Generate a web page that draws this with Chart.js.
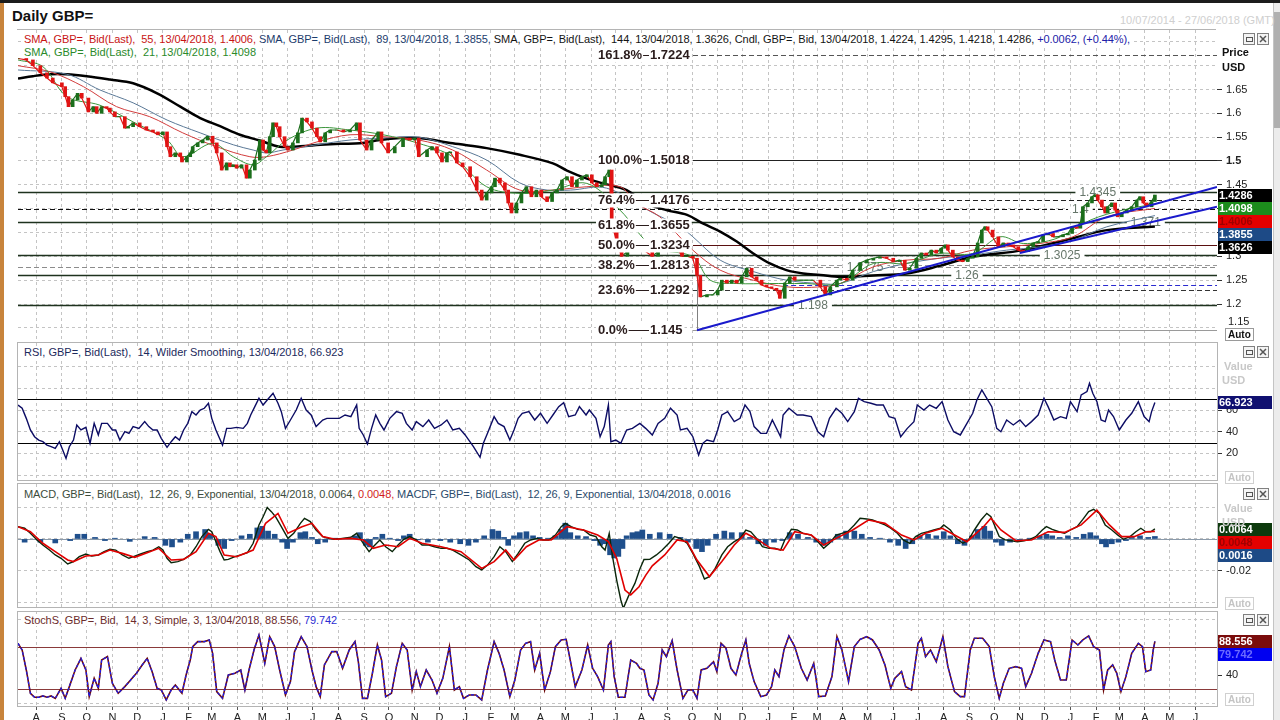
<!DOCTYPE html>
<html>
<head>
<meta charset="utf-8">
<title>Daily GBP=</title>
<script src="https://cdn.jsdelivr.net/npm/chart.js@4.4.1/dist/chart.umd.min.js"></script>
<style>
  html, body { margin: 0; padding: 0; }
  body { width: 1280px; height: 720px; overflow: hidden; position: relative; background: #fff;
         font-family: "Liberation Sans", Arial, sans-serif; }
  canvas { position: absolute; left: 18px; }
  .t { position: absolute; white-space: pre; font-size: 11px; line-height: 12px; }
  .hdr { background: #fff; padding-right: 2px; }
  .frame { position: absolute; border: 1px solid #b4b4b4; pointer-events: none; }
  .ico { position: absolute; width: 10px; height: 10px; border: 1px solid #808080; background: #f4f4f4; }
  .auto { position: absolute; font-size: 10px; font-weight: bold; line-height: 11px; padding: 0 2px; border: 1px solid #9a9a9a; }
  .side { position: absolute; font-size: 11px; font-weight: bold; }
</style>
</head>
<body>
<div style="position:absolute;left:0;top:0;width:1280px;height:3px;background:#1c1c1c"></div>
<div style="position:absolute;left:0;top:3px;width:4px;height:717px;background:#c8843c"></div>
<div style="position:absolute;left:1273px;top:3px;width:7px;height:717px;background:#ececec;border-left:1px solid #c4c4c4"></div>
<div style="position:absolute;left:1274px;top:12px;width:6px;height:116px;background:#b0b0b0"></div>

<div class="t" style="left:12px;top:8px;font-size:15px;line-height:16px;font-weight:bold;color:#111">Daily GBP=</div>
<div class="t" style="left:1120px;top:14px;color:#cfcfcf">10/07/2014 - 27/06/2018 (GMT)</div>

<canvas id="cPrice" width="1254" height="310" style="top:30px"></canvas>
<canvas id="cRsi" width="1254" height="137" style="top:343px"></canvas>
<canvas id="cMacd" width="1254" height="123" style="top:484px"></canvas>
<canvas id="cStoch" width="1254" height="120" style="top:612px"></canvas>

<div class="frame" style="left:17px;top:29px;width:1199px;height:310px;border-left:none;border-right:none;border-bottom:none"></div>
<div class="frame" style="left:17px;top:342px;width:1199px;height:137px"></div>
<div class="frame" style="left:17px;top:483px;width:1199px;height:123px"></div>
<div class="frame" style="left:17px;top:611px;width:1199px;height:94px"></div>

<div class="t hdr" style="left:24px;top:33px;letter-spacing:-0.07px"><span style="color:#c81414">SMA, GBP=, Bid(Last),  55, 13/04/2018, 1.4006, </span><span style="color:#1c3c6c">SMA, GBP=, Bid(Last),  89, 13/04/2018, 1.3855, </span><span style="color:#141414">SMA, GBP=, Bid(Last),  144, 13/04/2018, 1.3626, Cndl, GBP=, Bid, 13/04/2018, 1.4224, 1.4295, 1.4218, 1.4286, </span><span style="color:#2020a8">+0.0062, (+0.44%),</span></div>
<div class="t hdr" style="left:24px;top:46px;color:#2a8a2a">SMA, GBP=, Bid(Last),  21, 13/04/2018, 1.4098</div>
<div class="t hdr" style="left:24px;top:346px;color:#1c2a5c">RSI, GBP=, Bid(Last),  14, Wilder Smoothing, 13/04/2018, 66.923</div>
<div class="t hdr" style="left:24px;top:488px;letter-spacing:-0.1px"><span style="color:#3c4c3c">MACD, GBP=, Bid(Last),  12, 26, 9, Exponential, 13/04/2018, 0.0064, </span><span style="color:#d21c1c">0.0048, </span><span style="color:#2c4c6c">MACDF, GBP=, Bid(Last),  12, 26, 9, Exponential, 13/04/2018, 0.0016</span></div>
<div class="t hdr" style="left:24px;top:614px;letter-spacing:-0.1px"><span style="color:#6c2c2c">StochS, GBP=, Bid,  14, 3, Simple, 3, 13/04/2018, 88.556, </span><span style="color:#2c2cd2">79.742</span></div>

<div class="side" style="left:1222px;top:46px;color:#111">Price</div>
<div class="side" style="left:1222px;top:61px;color:#111">USD</div>
<div class="t" style="left:1228px;top:315px;color:#222">1.15</div>
<div class="side" style="left:1224px;top:360px;color:#c8c8c8">Value</div>
<div class="side" style="left:1222px;top:374px;color:#c8c8c8">USD</div>
<div class="side" style="left:1224px;top:502px;color:#c8c8c8">Value</div>
<div class="side" style="left:1222px;top:516px;color:#c8c8c8">USD</div>

<div class="auto" style="left:1225px;top:328px;color:#111;background:#fff">Auto</div>
<div class="auto" style="left:1225px;top:471px;color:#c4c4c4;border-color:#d0d0d0">Auto</div>
<div class="auto" style="left:1225px;top:597px;color:#c4c4c4;border-color:#d0d0d0">Auto</div>
<div class="auto" style="left:1225px;top:693px;color:#c4c4c4;border-color:#d0d0d0">Auto</div>

<div id="icons"></div>

<script>
// days are counted from 10/07/2014, the first bar of the chart
const START_MS = Date.UTC(2014, 6, 10);
const DAY_MS = 86400000;
const LAST_DAY = 1448; // 27/06/2018
const MONTH_LETTERS = ['J','F','M','A','M','J','J','A','S','O','N','D'];

// ---- price (closes read off the candles, roughly weekly) ----
const priceDays = [0,10,18,27,35,42,53,57,61,66,72,77,85,91,95,101,107,111,117,123,
  129,133,139,147,155,163,169,175,180,184,190,196,198,204,208,211,217,223,229,235,
  240,246,252,256,260,264,270,276,280,286,292,296,300,304,308,312,316,322,326,332,
  338,343,349,355,361,365,371,377,385,393,401,409,413,421,427,435,439,447,455,465,
  473,479,484,494,500,506,512,518,522,530,537,546,554,560,566,572,576,582,588,592,
  596,602,608,614,620,626,632,639,645,651,657,663,669,675,681,687,693,699,705,709,
  714,717,723,729,736,743,751,758,766,773,780,787,795,802,809,815,820,824,832,839,
  845,850,856,862,868,874,880,886,892,898,904,910,916,920,926,932,938,946,952,960,
  969,975,981,989,993,1001,1008,1017,1025,1033,1041,1049,1057,1065,1071,1077,1085,1091,1097,1103,
  1109,1115,1120,1123,1129,1135,1141,1147,1153,1159,1164,1168,1171,1177,1184,1190,1196,1202,1208,1214,
  1220,1226,1232,1238,1244,1250,1256,1262,1268,1273,1279,1283,1286,1292,1297,1301,1304,1309,1313,1316,
  1321,1325,1328,1333,1339,1345,1351,1355,1359,1363,1369,1373];
const priceCloses = [1.715,1.712,1.700,1.685,1.674,1.664,1.656,1.635,1.614,1.628,1.642,1.632,1.603,1.614,1.600,1.614,1.611,1.603,1.593,1.593,
  1.569,1.572,1.580,1.572,1.565,1.561,1.555,1.561,1.530,1.509,1.517,1.509,1.498,1.509,1.517,1.530,1.538,1.544,1.552,1.538,
  1.517,1.481,1.496,1.488,1.492,1.485,1.492,1.464,1.481,1.502,1.544,1.523,1.517,1.551,1.580,1.572,1.551,1.530,1.523,1.538,
  1.559,1.590,1.582,1.569,1.551,1.540,1.559,1.565,1.565,1.561,1.565,1.580,1.544,1.523,1.544,1.561,1.538,1.517,1.530,1.548,
  1.544,1.548,1.509,1.523,1.530,1.517,1.498,1.517,1.519,1.496,1.488,1.467,1.439,1.418,1.433,1.446,1.464,1.454,1.439,1.412,
  1.391,1.412,1.433,1.446,1.425,1.439,1.425,1.415,1.433,1.439,1.460,1.467,1.446,1.460,1.467,1.471,1.454,1.446,1.450,1.467,
  1.481,1.370,1.330,1.300,1.310,1.320,1.320,1.310,1.300,1.310,1.320,1.310,1.320,1.300,1.300,1.296,1.260,1.215,1.219,1.219,
  1.229,1.250,1.244,1.250,1.244,1.257,1.275,1.257,1.250,1.240,1.236,1.233,1.229,1.212,1.244,1.257,1.250,1.250,1.250,1.250,
  1.236,1.219,1.236,1.250,1.254,1.250,1.271,1.286,1.292,1.296,1.299,1.296,1.289,1.292,1.271,1.275,1.296,1.307,1.303,1.313,
  1.307,1.317,1.324,1.313,1.299,1.292,1.289,1.296,1.299,1.328,1.355,1.362,1.355,1.341,1.320,1.328,1.324,1.320,1.313,1.310,
  1.320,1.328,1.331,1.345,1.348,1.341,1.341,1.345,1.348,1.362,1.359,1.370,1.404,1.412,1.425,1.429,1.418,1.404,1.391,1.404,
  1.412,1.397,1.383,1.391,1.397,1.404,1.418,1.425,1.412,1.404,1.415,1.4286];

// ---- moving averages ----
const sma21Days = [0,30,59,99,139,180,199,235,260,284,300,325,361,401,441,484,525,566,606,646,687,727,767,815,836,868,908,948,993,1033,1073,1113,1153,1186,1214,1255,1295,1334,1373];
const sma21Vals = [1.712,1.698,1.635,1.617,1.582,1.544,1.509,1.537,1.509,1.492,1.509,1.544,1.569,1.565,1.555,1.537,1.509,1.446,1.432,1.439,1.453,1.397,1.320,1.299,1.250,1.243,1.243,1.243,1.243,1.285,1.285,1.306,1.306,1.341,1.327,1.338,1.376,1.397,1.4098];
const sma55Days = [0,39,79,119,159,199,240,280,300,332,361,401,441,484,525,566,606,646,687,727,747,775,815,848,888,928,969,993,1033,1073,1113,1153,1194,1234,1274,1315,1373];
const sma55Vals = [1.700,1.687,1.656,1.614,1.593,1.559,1.530,1.509,1.509,1.523,1.540,1.555,1.551,1.544,1.523,1.481,1.439,1.439,1.446,1.446,1.411,1.383,1.313,1.271,1.250,1.236,1.236,1.243,1.278,1.292,1.296,1.313,1.320,1.327,1.341,1.383,1.4006];
const sma89Days = [0,59,99,139,180,220,260,284,300,320,361,401,441,484,525,566,606,639,667,711,767,800,815,848,888,928,969,993,1033,1073,1113,1153,1194,1234,1274,1315,1373];
const sma89Vals = [1.691,1.682,1.649,1.622,1.586,1.559,1.534,1.523,1.517,1.523,1.534,1.544,1.548,1.550,1.530,1.502,1.454,1.439,1.439,1.443,1.391,1.362,1.341,1.292,1.268,1.250,1.243,1.243,1.268,1.285,1.296,1.303,1.313,1.320,1.334,1.362,1.3855];
const sma144Days = [0,18,39,59,83,111,139,168,196,220,244,268,292,316,341,365,389,413,437,461,485,525,566,606,646,663,687,707,735,759,783,808,827,848,868,888,908,928,948,969,993,1033,1073,1113,1153,1214,1274,1315,1373];
const sma144Vals = [1.673,1.678,1.682,1.682,1.678,1.671,1.663,1.642,1.614,1.590,1.573,1.555,1.543,1.530,1.531,1.534,1.536,1.537,1.544,1.548,1.548,1.537,1.527,1.513,1.495,1.480,1.463,1.453,1.439,1.411,1.397,1.387,1.369,1.352,1.331,1.306,1.285,1.271,1.264,1.261,1.257,1.260,1.264,1.280,1.299,1.313,1.338,1.355,1.3626];

// ---- drawn levels ----
const fibPcts = ['161.8%','100.0%','76.4%','61.8%','50.0%','38.2%','23.6%','0.0%'];
const fibLevels = [1.7224,1.5018,1.4176,1.3655,1.3234,1.2813,1.2292,1.145];
const fibStartDay = 820; // 07/10/2016 low
const srLevels = [1.4345,1.40,1.371,1.3025,1.2775,1.26,1.198];
const srLabels = ['1.4345','1.4','1.371','1.3025','1.2775','1.26','1.198'];
const trendDays = [[820,1448],[1210,1448]];
const trendPrices = [[1.145,1.4455],[1.307,1.404]];
const blueDashLevel = 1.239;
const blueDashFrom = 924;

// ---- RSI 14 ----
const rsiDays = [0,5,10,15,20,25,30,35,40,45,50,54,58,62,67,71,76,82,87,92,
  97,101,108,114,118,123,129,134,139,146,153,158,163,168,173,180,185,190,195,200,
  205,210,215,220,225,230,234,239,247,252,257,264,272,277,281,286,291,296,301,308,
  314,318,323,329,336,342,348,354,360,368,373,380,388,395,402,409,412,417,422,427,
  432,437,442,449,457,464,469,476,481,489,496,503,511,518,525,533,540,550,558,562,
  567,575,580,587,594,599,604,609,617,624,631,639,646,653,659,665,673,678,686,690,
  698,703,708,713,716,722,728,735,742,
  751,758,766,773,781,788,796,800,808,815,822,827,832,840,845,850,857,865,872,878,
  884,889,897,904,911,921,924,931,941,948,958,966,973,980,988,995,1002,1010,1015,1022,
  1030,1037,1045,1052,1059,1066,1074,1082,1086,1094,1101,1109,1116,1123,1130,1138,1146,1153,1158,1164,
  1170,1176,1182,1187,1194,1202,1210,1217,1224,1232,1239,1244,1251,1259,1266,1271,1279,1284,1291,1294,
  1298,1303,1308,1313,1317,1323,1330,1338,1345,1353,1360,1366,1369,1373];
const rsiVals = [64.6,61.6,52.3,41.6,35.4,32.3,30.8,27.7,26.2,24.7,30.8,23.1,15.4,26.2,32.3,46.2,41.6,44,29.3,47.7,
  37,47.7,47.7,41.6,41.6,32.3,40,38.5,44.7,43.1,49.3,44.7,41.6,41.6,33.9,25.6,30.8,35.4,32.3,41.6,
  47.7,58.5,55.4,60,61.6,66.2,52.3,41.6,27.7,43.1,43.1,44,43.1,47.7,55.4,63.1,70.8,64.6,69.2,75.4,
  66.2,58.5,43.1,50.8,60,70.8,60,55.4,44.7,50.8,52.3,52.3,52.3,55.4,53.9,64.6,43.1,37,28.7,43.1,
  55.4,47.7,41.6,52.3,58.5,56.9,47.7,41.6,49.3,44.7,50.8,43.1,46.2,50.8,41.6,43.1,37,26.2,16.4,29.3,
  38.5,53.9,47.7,44.7,32.3,41.6,52.3,57,58.5,50.8,57,47.7,55.4,63.1,66.8,53.9,55.4,63.1,55.4,60,
  52.3,35.4,44.7,64.6,30.8,32.3,29.3,41.6,43.1,
  47.7,43.1,37,47.7,52.3,61.6,55.4,41.6,43.1,35.4,18.5,29.3,32.3,30.8,41.6,55.4,58.5,49.3,52.3,64.6,
  58.5,44.7,38.5,38.5,50.8,35.4,55.4,61.6,55.4,55.4,53.9,40,35.4,52.3,61.6,57,49.3,58.5,70.8,67.7,
  66.2,64.6,64.6,53.9,52.3,35.4,43.1,49.3,64.6,60,64.6,61.6,67.7,50.8,40,37,47.7,57,69.2,78.5,
  70.8,63.1,43.1,40,50.8,46.2,50.8,44.7,49.3,55.4,70.8,63.1,50.8,53.9,52.3,67.7,58.5,73.9,77,84.6,
  75.4,67.7,50.8,49.3,60,54,41.6,50.8,57,67.7,54,49.3,58.5,66.9];

// ---- MACD 12/26/9 ----
const macdDays = [0,8,15,23,30,38,45,52,60,67,74,82,89,97,104,111,118,126,134,141,
  148,156,163,170,175,180,185,193,200,208,215,222,230,234,239,244,249,254,262,269,
  277,284,291,296,301,306,311,318,326,333,341,346,353,360,368,375,383,392,402,409,
  417,424,429,437,444,452,459,466,473,481,488,496,503,511,518,525,535,545,553,560,
  567,575,582,589,597,604,612,619,627,634,641,649,656,661,668,676,683,691,698,705,
  709,714,718,723,728,731,737,745,
  751,756,763,771,778,786,793,800,808,815,823,829,835,842,850,857,865,872,879,885,
  892,899,907,914,921,926,934,941,948,958,966,973,980,988,995,1002,1010,1017,1025,1032,
  1040,1047,1054,1062,1069,1077,1084,1091,1099,1106,1114,1118,1126,1133,1141,1148,1155,1163,1170,1175,
  1180,1185,1192,1200,1207,1215,1222,1229,1237,1242,1249,1257,1264,1271,1279,1286,1293,1299,1306,1313,
  1321,1328,1335,1343,1350,1356,1362,1368,1373];
const macdVals = [0.0078,0.0068,0.0036,-0.0006,-0.0038,-0.007,-0.0101,-0.0122,-0.0158,-0.0143,
  -0.0112,-0.0095,-0.0108,-0.0101,-0.008,-0.0065,-0.007,-0.0101,-0.0122,-0.0108,
  -0.0095,-0.008,-0.007,-0.0049,-0.007,-0.0122,-0.015,-0.0143,-0.0129,-0.0101,
  -0.0049,0.0015,0.0061,0.0046,-0.0017,-0.008,-0.0133,-0.0129,-0.0112,-0.0101,
  -0.0087,-0.0027,0.0089,0.0141,0.02,0.0173,0.0141,0.0078,0.0004,0.0036,
  0.0099,0.0131,0.011,0.0057,0.0015,0.0004,-0.0002,0.0004,0.0011,0.0036,
  -0.0027,-0.008,-0.0049,-0.0006,-0.0049,-0.008,-0.0038,-0.0002,0.0015,-0.0006,
  -0.0038,-0.0038,-0.0049,-0.0059,-0.0059,-0.007,-0.0101,-0.0133,-0.0175,-0.0196,
  -0.0165,-0.0112,-0.0049,-0.008,-0.0143,-0.0091,-0.0027,-0.0006,0.0004,-0.0006,
  -0.0006,0.0025,0.0078,0.0099,0.0078,0.0061,0.0057,0.0025,0.0015,-0.0049,
  -0.007,0.0036,-0.0112,-0.026,-0.0386,-0.0439,-0.0365,-0.0281,
  -0.019,-0.013,-0.0129,-0.0101,-0.007,-0.0027,0.0015,0.0004,-0.0027,-0.0091,
  -0.0175,-0.0253,-0.0238,-0.0186,-0.0101,-0.0049,-0.0017,0.0004,0.0057,0.0046,
  0.0004,-0.0049,-0.0059,-0.0059,-0.007,-0.0006,0.0061,0.0057,0.0036,0.0025,
  -0.0017,-0.0059,-0.0027,0.0025,0.0036,0.0046,0.0089,0.0131,0.0127,0.012,
  0.0103,0.0089,0.0068,0.0036,-0.0006,-0.0027,0.0015,0.0036,0.0046,0.0057,
  0.0068,0.0089,0.0057,0.0004,-0.0027,-0.0006,0.0057,0.012,0.0162,0.0141,
  0.0078,0.0015,-0.0006,-0.0011,-0.0017,-0.0011,-0.0002,0.0015,0.0057,0.0078,
  0.0061,0.0046,0.0036,0.0057,0.0078,0.0124,0.0173,0.0188,0.0162,0.0089,
  0.0057,0.0025,-0.0002,0.0015,0.0046,0.0068,0.0046,0.0046,0.0064];
const sigDays = [0,15,30,45,60,67,82,97,111,126,141,156,170,185,200,215,230,239,249,264,
  284,299,314,326,343,355,368,383,402,417,429,444,459,473,488,511,535,560,575,589,
  599,614,629,644,663,683,700,713,723,733,740,750,758,766,781,796,808,820,835,850,
  865,879,894,909,924,938,958,973,988,1008,1027,1047,1067,1082,1096,1116,1131,1146,1166,1175,
  1187,1205,1224,1244,1264,1284,1303,1318,1333,1348,1362,1373];
const sigVals = [0.0078,0.0046,-0.0027,-0.008,-0.0133,-0.0143,-0.0108,-0.0101,-0.007,-0.0091,
  -0.0116,-0.0087,-0.0059,-0.0133,-0.0129,-0.008,0.0036,0.0015,-0.0101,-0.0112,
  -0.007,0.0099,0.0162,0.0036,0.0078,0.0099,0.0015,-0.0002,0.0004,-0.0006,
  -0.0059,-0.0038,-0.0049,0.0004,-0.0027,-0.0049,-0.008,-0.0186,-0.0143,-0.007,
  -0.0133,-0.0049,-0.0006,-0.0006,0.0078,0.0057,0.0025,-0.0017,-0.0122,-0.0323,
  -0.0354,-0.0302,-0.023,-0.017,-0.0101,-0.0006,-0.0017,-0.0133,-0.0238,-0.0143,
  -0.0038,0.0036,-0.0006,-0.0059,-0.007,0.0046,0.0025,-0.0038,0.0004,0.0057,
  0.012,0.0099,0.0025,-0.0006,0.0036,0.0068,0.0025,-0.0017,0.0078,0.0131,
  0.0057,-0.0011,-0.0006,0.0046,0.0042,0.0089,0.0183,0.0089,0.0015,0.0015,
  0.0046,0.0048];
const histDays = [8,27,45,63,72,80,93,105,117,135,153,165,178,186,196,205,215,226,232,242,
  249,258,270,280,289,295,302,310,319,325,332,341,347,355,362,371,383,395,407,413,
  420,425,432,440,449,459,466,473,483,495,510,522,534,544,553,563,573,580,587,592,
  599,606,614,622,630,640,649,656,661,667,676,686,696,703,709,715,720,725,730,735,
  742,748,754,763,775,787,800,809,819,826,833,843,853,862,874,884,894,903,913,923,
  932,942,954,964,973,981,990,1000,1010,1019,1029,1041,1053,1063,1072,1080,1089,1099,1109,1118,
  1126,1135,1143,1152,1159,1167,1174,1181,1188,1198,1210,1222,1234,1242,1249,1258,1268,1278,1287,1295,
  1302,1309,1314,1321,1329,1338,1345,1355,1365,1373];
const histVals = [-0.002,-0.002,-0.0025,-0.001,0.003,0.003,0.001,-0.001,0.0005,-0.0015,
  0.0015,0.001,-0.004,-0.005,-0.002,0.003,0.0046,0.006,0.003,-0.004,
  -0.006,-0.001,0.002,0.003,0.007,0.008,0.005,0.003,-0.002,-0.006,
  -0.002,0.004,0.0046,0.001,-0.003,-0.002,0.0005,0.0005,0.002,0.004,
  -0.004,-0.005,0.001,0.003,0.0005,-0.001,0.002,0.003,-0.0005,-0.002,
  -0.001,-0.002,-0.003,-0.004,-0.002,0.002,0.006,0.005,0.001,-0.004,
  0.002,0.004,0.0046,0.002,0.001,0.0005,0.002,0.006,0.010,0.004,
  0.002,0.0015,-0.001,-0.004,-0.003,-0.010,-0.012,-0.011,-0.006,0.002,
  0.004,0.0046,0.0057,0.003,0.004,0.003,0.001,-0.002,-0.006,-0.008,
  -0.004,0.003,0.005,0.004,0.004,0.001,-0.003,-0.004,-0.002,-0.001,
  0.004,0.003,0.001,-0.002,-0.004,-0.002,0.003,0.005,0.005,0.003,
  0.001,0.0005,-0.002,-0.004,-0.006,-0.003,0.002,0.003,0.002,0.0046,
  0.002,-0.003,-0.004,0.002,0.006,0.008,0.005,-0.002,-0.004,-0.002,
  -0.001,0.0005,0.002,0.003,0.002,0.001,0.002,0.001,0.003,0.004,
  0.002,-0.003,-0.005,-0.003,-0.002,-0.001,0.001,0.002,0.001,0.0016];

// ---- slow stochastic 14/3/3 ----
const stochDays = [0,5,10,15,20,25,30,35,40,45,52,57,62,69,76,82,86,92,97,101,
  108,114,121,129,136,143,150,156,162,168,173,179,185,190,198,203,208,211,217,225,
  231,235,240,247,254,262,269,274,279,285,291,298,304,310,316,323,329,334,342,349,
  355,360,365,370,379,385,392,400,407,411,416,422,428,434,439,444,451,457,464,470,
  476,481,486,493,500,506,513,521,527,533,538,545,553,560,567,575,581,587,594,600,
  607,613,619,624,630,636,643,649,656,662,668,673,681,688,694,700,707,713,716,720,
  725,733,740,747,
  751,756,762,767,773,778,783,790,796,803,809,815,820,825,832,840,844,849,855,861,
  867,874,879,883,889,897,904,910,914,919,925,931,938,946,953,961,967,975,983,989,
  995,1003,1010,1017,1025,1032,1040,1047,1054,1059,1067,1072,1079,1087,1091,1096,1102,1109,1117,1123,
  1131,1138,1143,1150,1155,1165,1173,1179,1185,1190,1197,1205,1212,1217,1224,1232,1239,1247,1252,1259,
  1266,1273,1280,1286,1293,1299,1306,1311,1316,1322,1327,1332,1338,1345,1353,1358,1362,1368,1371,1373];
const stochVals = [85.7,76.2,47.6,14.3,8.6,8.6,10.5,8.6,10.5,7.1,21.4,7.1,23.8,47.6,64.3,47.6,9.5,35.7,21.4,61.9,
  66.7,28.6,14.3,23.8,33.3,42.9,54.8,64.3,45.2,21.4,19,4.8,19,26.2,14.3,40.5,61.9,81,88.1,88.1,
  90.5,71.4,16.7,7.1,40.5,42.9,47.6,19,47.6,76.2,97.6,57.1,95.2,81,47.6,11.9,31,73.8,95.2,81,
  47.6,23.8,9.5,54.8,73.8,73.8,50,76.2,88.1,59.5,7.1,7.1,42.9,83.3,61.9,9.5,14.3,52.4,85.7,76.2,
  19,45.2,23.8,47.6,33.3,14.3,35.7,81,19,23.8,7.1,11.9,11.9,4.8,47.6,88.1,71.4,47.6,9.5,33.3,
  76.2,85.7,88.1,47.6,71.4,19,45.2,81,90.5,91.4,54.8,23.8,47.6,83.3,50,38.1,19,83.3,88.1,38.1,
  8.6,8.6,61.9,57.1,
  50,47.6,11.9,4.8,28.6,76.2,66.7,89.5,47.6,7.1,19,19,7.1,47.6,50,59.5,45.2,85.7,78.6,50,
  40.5,71.4,90.5,57.1,31,9.5,11.9,23.8,47.6,38.1,76.2,96.2,81,50,33.3,57.1,9.5,10.5,38.1,95.2,
  76.2,31,81,91.4,95.2,90.5,76.2,54.8,21.4,35.7,45.2,23.8,19,85.7,92.9,66.7,76.2,59.5,95.2,52.4,
  16.7,9.5,9.5,76.2,92.9,92.9,81,38.1,7.1,28.6,50,52.4,50,23.8,42.9,71.4,90.5,88.1,61.9,33.3,
  33.3,90.5,83.3,90.5,96.2,81,76.2,19,47.6,54.8,42.9,16.7,38.1,71.4,85.7,81,45.2,47.6,76.2,88.6];

// ---- axis ticks ----
const priceTicks = [1.15,1.2,1.25,1.3,1.35,1.4,1.45,1.5,1.55,1.6,1.65,1.7,1.75];
const priceTickLabels = ['','1.2','1.25','1.3','1.35','1.4','1.45','1.5','1.55','1.6','1.65','',''];
const rsiTicks = [0,20,40,60,80,100];
const rsiTickLabels = ['','20','40','60','',''];
const macdTicks = [-0.04,-0.02,0,0.02];
const macdTickLabels = ['','-0.02','',''];
const stochTicks = [0,40,120];
const stochTickLabels = ['','40',''];

// ================= drawing =================
Chart.defaults.font.family = '"Liberation Sans", Arial, sans-serif';
Chart.defaults.font.size = 11;
Chart.defaults.color = '#222';

const GRID = '#c4c4c4';
const UP = '#1b6e1b';
const DOWN = '#e01414';
const FONT = '"Liberation Sans", Arial, sans-serif';

function pts(days, vals) {
  return days.map((d, i) => ({ x: d, y: vals[i] }));
}

function monthTicks() {
  const out = [];
  let y = 2014, m = 7;
  while (true) {
    const d = (Date.UTC(y, m, 1) - START_MS) / DAY_MS;
    if (d > LAST_DAY) break;
    out.push({ value: d });
    m++;
    if (m > 11) { m = 0; y++; }
  }
  return out;
}

// keep the plot area exactly the canvas box: no label overhang padding
function noPad(ax) {
  ax.paddingLeft = 0; ax.paddingRight = 0; ax.paddingTop = 0; ax.paddingBottom = 0;
}

function xAxis(withLabels) {
  return {
    type: 'linear', min: 0, max: LAST_DAY, offset: false,
    afterBuildTicks: ax => { ax.ticks = monthTicks(); },
    afterFit: ax => { ax.height = withLabels ? 26 : 0; noPad(ax); },
    grid: { color: GRID, drawTicks: withLabels, tickLength: 4, tickColor: '#555', offset: false },
    border: { display: false, dash: [3, 3] },
    ticks: {
      display: withLabels, autoSkip: false, maxRotation: 0, padding: 1, color: '#222',
      callback: v => MONTH_LETTERS[new Date(START_MS + v * DAY_MS).getUTCMonth()]
    }
  };
}

function yAxis(min, max, ticks, labels, hideGrid) {
  return {
    position: 'right', min, max,
    afterBuildTicks: ax => { ax.ticks = ticks.map(v => ({ value: v })); },
    afterFit: ax => { ax.width = 55; noPad(ax); },
    grid: {
      color: c => (hideGrid || []).includes(c.index) ? 'rgba(0,0,0,0)' : GRID,
      tickLength: 5,
      tickColor: c => labels[c.index] ? '#333' : 'rgba(0,0,0,0)'
    },
    border: { display: false, dash: [3, 3] },
    ticks: {
      padding: 4, color: '#222',
      font: c => ({ size: 11, weight: (c.tick && c.tick.value === 1.5) ? 'bold' : 'normal' }),
      callback: (v, i) => labels[i]
    }
  };
}

function hline(ctx, x0, x1, y) {
  ctx.beginPath(); ctx.moveTo(x0, y); ctx.lineTo(x1, y); ctx.stroke();
}

function levelLines(lines) {
  return {
    id: 'levelLines',
    beforeDatasetsDraw(chart) {
      const { ctx, chartArea: a, scales: { y } } = chart;
      ctx.save();
      lines.forEach(l => {
        ctx.strokeStyle = l.color; ctx.lineWidth = l.width || 1; ctx.setLineDash(l.dash || []);
        hline(ctx, a.left, a.right + (l.extra || 0), Math.round(y.getPixelForValue(l.v)) + 0.5);
      });
      ctx.restore();
    }
  };
}

function valueBoxes(boxes) {
  return {
    id: 'valueBoxes',
    afterDraw(chart) {
      const { ctx, chartArea: a, scales: { y } } = chart;
      let prev = -1e9;
      ctx.save();
      ctx.font = 'bold 11px ' + FONT;
      ctx.textBaseline = 'middle';
      boxes.forEach(b => {
        const cy = Math.max(Math.round(y.getPixelForValue(b.v)), prev + 13);
        prev = cy;
        ctx.fillStyle = b.bg; ctx.fillRect(a.right + 1, cy - 6, 54, 13);
        ctx.fillStyle = b.fg; ctx.fillText(b.text, a.right + 2, cy + 1);
      });
      ctx.restore();
    }
  };
}

const SR_STYLE = [
  { c: '#1e321e', w: 1.5, d: [] },
  { c: '#111111', w: 1.2, d: [5, 3] },
  { c: '#1e321e', w: 1.5, d: [] },
  { c: '#1e321e', w: 1.5, d: [] },
  { c: '#8c8c8c', w: 1.2, d: [5, 3] },
  { c: '#1e321e', w: 1.5, d: [] },
  { c: '#1e321e', w: 1.5, d: [] }
];
const SR_LABEL_AT = [1304, 1283, 1362, 1261, 1023, 1146, 960];
const FIB_STYLE = [
  { c: '#555555', w: 1, d: [5, 3] },
  { c: '#222222', w: 1, d: [] },
  { c: '#222222', w: 1.2, d: [5, 3] },
  null,
  { c: '#5a1010', w: 1.2, d: [] },
  { c: '#9a9a9a', w: 1.2, d: [5, 3] },
  { c: '#333333', w: 1.2, d: [5, 3] },
  { c: '#9a9a9a', w: 1, d: [] }
];

const priceDecor = {
  id: 'priceDecor',
  beforeDatasetsDraw(chart) {
    const { ctx, chartArea: a, scales: { x, y } } = chart;
    const Y = v => Math.round(y.getPixelForValue(v)) + 0.5;
    const fx = x.getPixelForValue(fibStartDay);
    ctx.save();
    srLevels.forEach((v, i) => {
      const s = SR_STYLE[i];
      ctx.strokeStyle = s.c; ctx.lineWidth = s.w; ctx.setLineDash(s.d);
      hline(ctx, a.left, a.right, Y(v));
    });
    fibLevels.forEach((v, i) => {
      const s = FIB_STYLE[i];
      if (!s) return;
      ctx.strokeStyle = s.c; ctx.lineWidth = s.w; ctx.setLineDash(s.d);
      hline(ctx, fx - 4, a.right, Y(v));
    });
    ctx.strokeStyle = '#2a2ad0'; ctx.lineWidth = 1.2; ctx.setLineDash([5, 3]);
    hline(ctx, x.getPixelForValue(blueDashFrom), a.right, Y(blueDashLevel));
    ctx.setLineDash([]);
    ctx.strokeStyle = '#808080'; ctx.lineWidth = 1;
    ctx.beginPath(); ctx.moveTo(Math.round(fx) + 0.5, Y(1.2813)); ctx.lineTo(Math.round(fx) + 0.5, Y(1.145)); ctx.stroke();
    // level labels sit in a gap of their line
    ctx.font = '12px ' + FONT;
    ctx.textAlign = 'center'; ctx.textBaseline = 'middle';
    srLabels.forEach((t, i) => {
      const cx = x.getPixelForValue(SR_LABEL_AT[i]), cy = Y(srLevels[i]);
      const w = ctx.measureText(t).width + 8;
      ctx.fillStyle = '#fff'; ctx.fillRect(cx - w / 2, cy - 3, w, 6);
      ctx.fillStyle = '#66766a'; ctx.fillText(t, cx, cy);
    });
    ctx.restore();
  },
  afterDatasetsDraw(chart) {
    const { ctx, chartArea: a, scales: { x, y } } = chart;
    const fx = x.getPixelForValue(fibStartDay);
    ctx.save();
    ctx.beginPath(); ctx.rect(a.left, a.top, a.right - a.left, a.bottom - a.top); ctx.clip();
    ctx.strokeStyle = '#1a1acc'; ctx.lineWidth = 2;
    trendDays.forEach((d, i) => {
      ctx.beginPath();
      ctx.moveTo(x.getPixelForValue(d[0]), y.getPixelForValue(trendPrices[i][0]));
      ctx.lineTo(x.getPixelForValue(d[1]), y.getPixelForValue(trendPrices[i][1]));
      ctx.stroke();
    });
    ctx.font = 'bold 13px ' + FONT;
    ctx.textBaseline = 'middle';
    fibLevels.forEach((v, i) => {
      const cy = Math.round(y.getPixelForValue(v)) + 0.5;
      const left = fx - 99, valX = fx - 47;
      ctx.fillStyle = '#fff';
      ctx.fillRect(left - 2, cy - 7, valX - left + ctx.measureText(String(v)).width + 4, 14);
      ctx.fillStyle = '#2a1c1c';
      ctx.textAlign = 'left';
      ctx.fillText(fibPcts[i], left, cy);
      ctx.fillText(String(v), valX, cy);
      const pEnd = left + ctx.measureText(fibPcts[i]).width;
      ctx.strokeStyle = '#2a1c1c'; ctx.lineWidth = 1;
      hline(ctx, pEnd + 1, valX - 1, cy);
    });
    ctx.restore();
  }
};

function baseOptions(withLabels, yScale) {
  return {
    responsive: false, animation: false, devicePixelRatio: 1, events: [],
    layout: { padding: 0 },
    plugins: { legend: { display: false }, tooltip: { enabled: false } },
    elements: { point: { radius: 0 }, line: { tension: 0 } },
    scales: { x: xAxis(withLabels), y: yScale }
  };
}

// price panel
const candles = priceDays.map((d, i) => ({ x: d, y: [i ? priceCloses[i - 1] : priceCloses[0], priceCloses[i]] }));
new Chart(document.getElementById('cPrice'), {
  type: 'line',
  data: {
    datasets: [
      { type: 'bar', data: candles, grouped: false, barThickness: 3, order: 1,
        backgroundColor: c => (c.raw && c.raw.y[1] < c.raw.y[0]) ? DOWN : UP },
      { data: pts(priceDays, priceCloses), borderWidth: 1.2, order: 2,
        segment: { borderColor: s => s.p1.parsed.y < s.p0.parsed.y ? DOWN : UP } },
      { data: pts(sma21Days, sma21Vals), borderColor: '#3c963c', borderWidth: 1, tension: 0.35, order: 3 },
      { data: pts(sma55Days, sma55Vals), borderColor: '#d23c3c', borderWidth: 1, tension: 0.35, order: 4 },
      { data: pts(sma89Days, sma89Vals), borderColor: '#5a7896', borderWidth: 1, tension: 0.35, order: 5 },
      { data: pts(sma144Days, sma144Vals), borderColor: '#000', borderWidth: 2.5, tension: 0.35, order: 6 }
    ]
  },
  options: baseOptions(false, yAxis(1.1245, 1.7748, priceTicks, priceTickLabels)),
  plugins: [priceDecor, valueBoxes([
    { v: 1.4286, text: '1.4286', bg: '#000', fg: '#fff' },
    { v: 1.4098, text: '1.4098', bg: '#1c8c1c', fg: '#fff' },
    { v: 1.4006, text: '1.4006', bg: '#e40000', fg: '#a00000' },
    { v: 1.3855, text: '1.3855', bg: '#1d4a86', fg: '#fff' },
    { v: 1.3626, text: '1.3626', bg: '#000', fg: '#fff' }
  ])]
});

// RSI panel
new Chart(document.getElementById('cRsi'), {
  type: 'line',
  data: { datasets: [{ data: pts(rsiDays, rsiVals), borderColor: '#0c0c64', borderWidth: 1.4 }] },
  options: baseOptions(false, yAxis(-4.5, 121.75, rsiTicks, rsiTickLabels)),
  plugins: [levelLines([{ v: 70, color: '#000' }, { v: 30, color: '#000' }]),
    valueBoxes([{ v: 66.923, text: '66.923', bg: '#101070', fg: '#fff' }])]
});

// MACD panel
new Chart(document.getElementById('cMacd'), {
  type: 'line',
  data: {
    datasets: [
      { type: 'bar', data: pts(histDays, histVals), backgroundColor: '#1f4f8c', barThickness: 5, grouped: false, order: 3 },
      { data: pts(macdDays, macdVals), borderColor: '#0a260a', borderWidth: 1.4, order: 2 },
      { data: pts(sigDays, sigVals), borderColor: '#e00000', borderWidth: 1.6, order: 1 }
    ]
  },
  options: baseOptions(false, yAxis(-0.04304, 0.03481, macdTicks, macdTickLabels)),
  plugins: [levelLines([{ v: 0, color: '#8a9aaa', extra: 3 }]),
    valueBoxes([
      { v: 0.0064, text: '0.0064', bg: '#0d3a0d', fg: '#fff' },
      { v: 0.0048, text: '0.0048', bg: '#e40000', fg: '#a00000' },
      { v: 0.0016, text: '0.0016', bg: '#1d4a86', fg: '#fff' }
    ])]
});

// Stochastic panel
new Chart(document.getElementById('cStoch'), {
  type: 'line',
  data: {
    datasets: [
      { data: pts(stochDays, stochVals), borderColor: '#6e0a0a', borderWidth: 1.6, order: 2 },
      { data: pts(stochDays, stochVals), borderColor: '#1c1cf0', borderWidth: 1.2, borderDash: [3, 2], order: 1 }
    ]
  },
  options: baseOptions(true, yAxis(-3.86, 130.43, stochTicks, stochTickLabels, [1])),
  plugins: [levelLines([{ v: 80, color: '#8a3a3a' }, { v: 20, color: '#8a3a3a' }]),
    valueBoxes([
      { v: 88.556, text: '88.556', bg: '#7a0c0c', fg: '#fff' },
      { v: 79.742, text: '79.742', bg: '#0000f0', fg: '#6b6bff' }
    ])]
});

// small restore / close buttons at the right of each pane
const icons = document.getElementById('icons');
[33, 346, 488, 614].forEach(top => {
  icons.insertAdjacentHTML('beforeend',
    '<div class="ico" style="left:1243px;top:' + top + 'px"><div style="position:absolute;left:2px;top:3px;width:5px;height:3px;border:1px solid #555"></div></div>' +
    '<div class="ico" style="left:1257px;top:' + top + 'px"><svg width="10" height="10" style="position:absolute;left:0;top:0"><path d="M2 2L8 8M8 2L2 8" stroke="#555" stroke-width="1.5"/></svg></div>');
});
</script>
</body>
</html>
